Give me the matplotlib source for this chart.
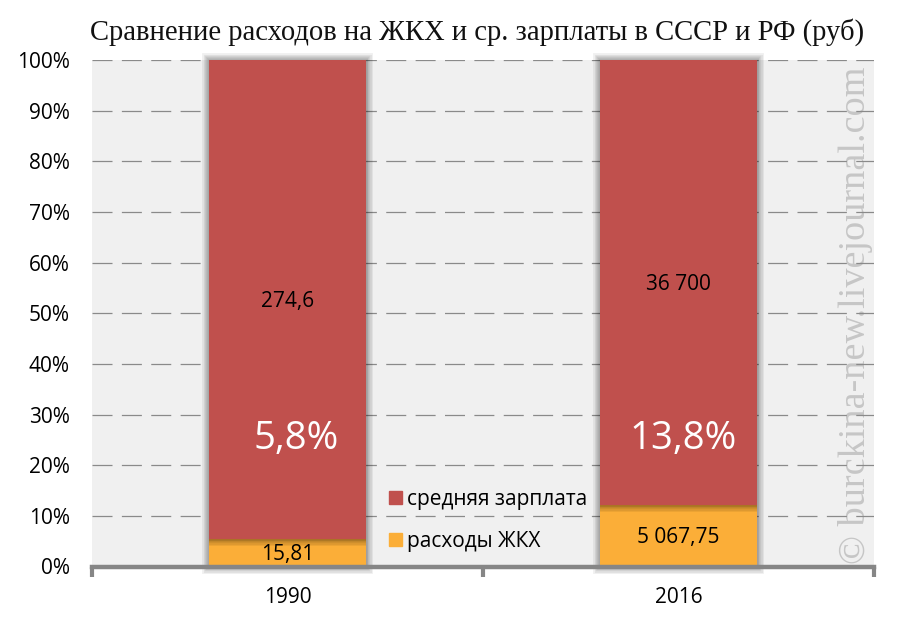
import numpy as np
import matplotlib
matplotlib.use("Agg")
import matplotlib.pyplot as plt
import matplotlib.patheffects as pe
from matplotlib.patches import Patch
from matplotlib.ticker import PercentFormatter

plt.rcParams['font.family'] = ['Open Sans', 'DejaVu Sans']

years = ["1990", "2016"]
housing = [15.81, 5067.75]
salary = [274.6, 36700]
housing_labels = ["15,81", "5 067,75"]
salary_labels = ["274,6", "36 700"]
share_labels = ["5,8%", "13,8%"]
y_ticks = [0, 10, 20, 30, 40, 50, 60, 70, 80, 90, 100]

RED = "#c0504d"
ORANGE = "#fbae38"
AXIS_GREY = "#868686"

housing = np.array(housing)
salary = np.array(salary)
total = housing + salary
housing_pct = housing / total * 100
salary_pct = salary / total * 100
x = np.arange(len(years))

fig = plt.figure(figsize=(9, 6.27), dpi=100)
ax = fig.add_axes([92 / 900, 1 - 566.5 / 627, 782 / 900, 506.5 / 627])
ax.set_facecolor("#f0f0f0")

# soft shadow: one round the whole column, one from the red part onto the orange
shadow = [pe.withStroke(linewidth=w, foreground="black", alpha=0.06) for w in (10, 8, 6, 4.5, 3, 2)] + [pe.Normal()]
column = ax.bar(x, housing_pct + salary_pct, width=0.4, color=RED, zorder=2.5, path_effects=shadow, clip_on=False)
b1 = ax.bar(x, housing_pct, width=0.4, color=ORANGE, zorder=3)
b2 = ax.bar(x, salary_pct, width=0.4, bottom=housing_pct, color=RED, zorder=3, path_effects=shadow)
for red, col in zip(b2, column):
    red.set_clip_path(col)

ax.set_xlim(-0.5, 1.5)
ax.set_ylim(0, 100)
ax.set_yticks(y_ticks)
ax.yaxis.set_major_formatter(PercentFormatter(decimals=0))
ax.set_xticks(x)
ax.set_xticklabels(years)
ax.set_xticks([-0.5, 0.5, 1.5], minor=True)
ax.tick_params(axis='x', which='major', length=0, labelsize=15, pad=15)
ax.tick_params(axis='x', which='minor', length=7, width=3, color=AXIS_GREY)
ax.tick_params(axis='y', length=0, labelsize=15, pad=16)
ax.grid(axis='y', color="#8a8a8a", linewidth=0.9, linestyle=(0, (16, 7.5)))
ax.set_axisbelow('line')

for s in ['top', 'left', 'right']:
    ax.spines[s].set_visible(False)
ax.spines['bottom'].set_color(AXIS_GREY)
ax.spines['bottom'].set_linewidth(3.2)
ax.spines['bottom'].set_zorder(4)

# big percent labels sit a little right of the bar centre
share_shift = [6, 3]
for i in x:
    ax.annotate(housing_labels[i], (i, housing_pct[i] / 2), xytext=(0, -1.5), textcoords='offset points',
                ha='center', va='center', fontsize=15, zorder=5)
    ax.annotate(salary_labels[i], (i, housing_pct[i] + salary_pct[i] / 2), xytext=(0, -1.5), textcoords='offset points',
                ha='center', va='center', fontsize=15, zorder=5)
    ax.annotate(share_labels[i], (i, 25.5), xytext=(share_shift[i], -1), textcoords='offset points',
                ha='center', va='center', fontsize=27.5, color='white', zorder=5)

ax.legend(handles=[Patch(color=RED, label="средняя зарплата"), Patch(color=ORANGE, label="расходы ЖКХ")],
          loc='lower left', bbox_to_anchor=(0.356, -0.008), frameon=False, fontsize=15,
          handlelength=0.62, handleheight=0.62, handletextpad=0.25, labelspacing=1.0)

fig.text(477 / 900, 1 - 32 / 627, "Сравнение расходов на ЖКХ и ср. зарплаты в СССР и РФ (руб)",
         ha='center', va='center', fontsize=20.6, family='Liberation Serif', color="#111111")
ax.text(865 / 900, 1 - 315 / 627, "© burckina-new.livejournal.com", rotation=90, transform=fig.transFigure,
        ha='center', va='baseline', rotation_mode='anchor', fontsize=27.5, family='Liberation Serif',
        color="#c6c6c6", zorder=0.5)

fig.savefig("out.png", dpi=100)
